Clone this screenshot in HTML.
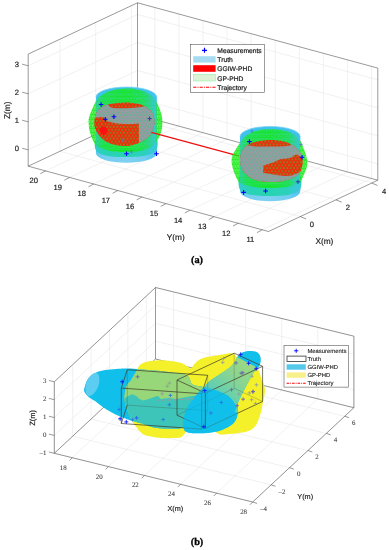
<!DOCTYPE html>
<html><head><meta charset="utf-8"><title>Figure</title>
<style>html,body{margin:0;padding:0;background:#fff;overflow:hidden;}svg{display:block;}</style>
</head><body>
<svg width="389" height="550" viewBox="0 0 389 550" text-rendering="geometricPrecision">
<rect width="389" height="550" fill="#ffffff"/>
<defs>
<pattern id="rm" width="3.4" height="5.9" patternUnits="userSpaceOnUse"><rect width="3.4" height="5.9" fill="#ff1e08"/><path d="M0,0L3.4,5.9M3.4,0L0,5.9M0,0H3.4M0,2.95H3.4" stroke="#46bc2c" stroke-width="0.3" stroke-opacity="0.6" fill="none"/><g fill="#3cc030"><circle cx="0" cy="0" r="0.65"/><circle cx="3.4" cy="0" r="0.65"/><circle cx="1.7" cy="2.95" r="0.65"/><circle cx="0" cy="5.9" r="0.65"/><circle cx="3.4" cy="5.9" r="0.65"/></g></pattern>
<pattern id="gm" width="3.4" height="5.9" patternUnits="userSpaceOnUse"><rect width="3.4" height="5.9" fill="#aa92a4"/><path d="M0,0L3.4,5.9M3.4,0L0,5.9M0,0H3.4M0,2.95H3.4" stroke="#48bc9c" stroke-width="0.4" fill="none"/><g fill="#38c860"><circle cx="0" cy="0" r="0.5"/><circle cx="3.4" cy="0" r="0.5"/><circle cx="1.7" cy="2.95" r="0.5"/><circle cx="0" cy="5.9" r="0.5"/><circle cx="3.4" cy="5.9" r="0.5"/></g></pattern>
<pattern id="grn" width="2.6" height="4.5" patternUnits="userSpaceOnUse"><rect width="2.6" height="4.5" fill="#30f030" fill-opacity="0.6"/><path d="M0,0L2.6,4.5M2.6,0L0,4.5M0,0H2.6M0,2.25H2.6" stroke="#06e806" stroke-width="0.6" fill="none"/></pattern>
<linearGradient id="cylg" x1="0" x2="1" y1="0" y2="0"><stop offset="0" stop-color="#3ec2ee" stop-opacity="0.5"/><stop offset="0.12" stop-color="#3ec2ee" stop-opacity="0.15"/><stop offset="0.5" stop-color="#3ec2ee" stop-opacity="0.0"/><stop offset="0.8" stop-color="#3ec2ee" stop-opacity="0.2"/><stop offset="1" stop-color="#3ec2ee" stop-opacity="0.85"/></linearGradient>
</defs>
<line x1="59.99" y1="151.28" x2="300.29" y2="216.58" stroke="#e3e3e3" stroke-width="0.5" />
<line x1="95.71" y1="134.51" x2="336.01" y2="199.81" stroke="#e3e3e3" stroke-width="0.5" />
<line x1="131.43" y1="117.75" x2="371.73" y2="183.05" stroke="#e3e3e3" stroke-width="0.5" />
<line x1="262.24" y1="229.8" x2="371.54" y2="178.5" stroke="#e3e3e3" stroke-width="0.5" />
<line x1="238.16" y1="223.26" x2="347.46" y2="171.96" stroke="#e3e3e3" stroke-width="0.5" />
<line x1="214.08" y1="216.71" x2="323.38" y2="165.41" stroke="#e3e3e3" stroke-width="0.5" />
<line x1="190.01" y1="210.17" x2="299.31" y2="158.87" stroke="#e3e3e3" stroke-width="0.5" />
<line x1="165.93" y1="203.63" x2="275.23" y2="152.33" stroke="#e3e3e3" stroke-width="0.5" />
<line x1="141.85" y1="197.08" x2="251.15" y2="145.78" stroke="#e3e3e3" stroke-width="0.5" />
<line x1="117.77" y1="190.54" x2="227.07" y2="139.24" stroke="#e3e3e3" stroke-width="0.5" />
<line x1="93.69" y1="184" x2="202.99" y2="132.7" stroke="#e3e3e3" stroke-width="0.5" />
<line x1="69.61" y1="177.45" x2="178.91" y2="126.15" stroke="#e3e3e3" stroke-width="0.5" />
<line x1="45.54" y1="170.91" x2="154.84" y2="119.61" stroke="#e3e3e3" stroke-width="0.5" />
<line x1="59.99" y1="151.28" x2="59.99" y2="39.18" stroke="#e3e3e3" stroke-width="0.5" />
<line x1="95.71" y1="134.51" x2="95.71" y2="22.41" stroke="#e3e3e3" stroke-width="0.5" />
<line x1="131.43" y1="117.75" x2="131.43" y2="5.65" stroke="#e3e3e3" stroke-width="0.5" />
<line x1="28.2" y1="149.86" x2="137.5" y2="98.56" stroke="#e3e3e3" stroke-width="0.5" />
<line x1="28.2" y1="121.84" x2="137.5" y2="70.54" stroke="#e3e3e3" stroke-width="0.5" />
<line x1="28.2" y1="93.81" x2="137.5" y2="42.51" stroke="#e3e3e3" stroke-width="0.5" />
<line x1="28.2" y1="65.79" x2="137.5" y2="14.49" stroke="#e3e3e3" stroke-width="0.5" />
<line x1="371.54" y1="178.5" x2="371.54" y2="66.4" stroke="#e3e3e3" stroke-width="0.5" />
<line x1="347.46" y1="171.96" x2="347.46" y2="59.86" stroke="#e3e3e3" stroke-width="0.5" />
<line x1="323.38" y1="165.41" x2="323.38" y2="53.31" stroke="#e3e3e3" stroke-width="0.5" />
<line x1="299.31" y1="158.87" x2="299.31" y2="46.77" stroke="#e3e3e3" stroke-width="0.5" />
<line x1="275.23" y1="152.33" x2="275.23" y2="40.23" stroke="#e3e3e3" stroke-width="0.5" />
<line x1="251.15" y1="145.78" x2="251.15" y2="33.68" stroke="#e3e3e3" stroke-width="0.5" />
<line x1="227.07" y1="139.24" x2="227.07" y2="27.14" stroke="#e3e3e3" stroke-width="0.5" />
<line x1="202.99" y1="132.7" x2="202.99" y2="20.6" stroke="#e3e3e3" stroke-width="0.5" />
<line x1="178.91" y1="126.15" x2="178.91" y2="14.05" stroke="#e3e3e3" stroke-width="0.5" />
<line x1="154.84" y1="119.61" x2="154.84" y2="7.51" stroke="#e3e3e3" stroke-width="0.5" />
<line x1="137.5" y1="98.56" x2="377.8" y2="163.86" stroke="#e3e3e3" stroke-width="0.5" />
<line x1="137.5" y1="70.54" x2="377.8" y2="135.84" stroke="#e3e3e3" stroke-width="0.5" />
<line x1="137.5" y1="42.51" x2="377.8" y2="107.81" stroke="#e3e3e3" stroke-width="0.5" />
<line x1="137.5" y1="14.49" x2="377.8" y2="79.79" stroke="#e3e3e3" stroke-width="0.5" />
<line x1="28.2" y1="166.2" x2="137.5" y2="114.9" stroke="#555555" stroke-width="0.6" />
<line x1="137.5" y1="114.9" x2="377.8" y2="180.2" stroke="#555555" stroke-width="0.6" />
<line x1="28.2" y1="166.2" x2="268.5" y2="231.5" stroke="#555555" stroke-width="0.6" />
<line x1="268.5" y1="231.5" x2="377.8" y2="180.2" stroke="#555555" stroke-width="0.6" />
<line x1="28.2" y1="166.2" x2="28.2" y2="54.1" stroke="#555555" stroke-width="0.6" />
<line x1="137.5" y1="114.9" x2="137.5" y2="2.8" stroke="#555555" stroke-width="0.6" />
<line x1="377.8" y1="180.2" x2="377.8" y2="68.1" stroke="#555555" stroke-width="0.6" />
<line x1="28.2" y1="54.1" x2="137.5" y2="2.8" stroke="#555555" stroke-width="0.6" />
<line x1="137.5" y1="2.8" x2="377.8" y2="68.1" stroke="#555555" stroke-width="0.6" />
<line x1="28.2" y1="149.86" x2="22.2" y2="148.26" stroke="#555555" stroke-width="0.6" />
<text x="16.9" y="151.06" font-size="7.6" font-family="'Liberation Sans', Arial, sans-serif" text-anchor="middle" fill="#1e1e1e" stroke="#1e1e1e" stroke-width="0.18" >0</text>
<line x1="28.2" y1="121.84" x2="22.2" y2="120.24" stroke="#555555" stroke-width="0.6" />
<text x="16.9" y="123.04" font-size="7.6" font-family="'Liberation Sans', Arial, sans-serif" text-anchor="middle" fill="#1e1e1e" stroke="#1e1e1e" stroke-width="0.18" >1</text>
<line x1="28.2" y1="93.81" x2="22.2" y2="92.21" stroke="#555555" stroke-width="0.6" />
<text x="16.9" y="95.01" font-size="7.6" font-family="'Liberation Sans', Arial, sans-serif" text-anchor="middle" fill="#1e1e1e" stroke="#1e1e1e" stroke-width="0.18" >2</text>
<line x1="28.2" y1="65.79" x2="22.2" y2="64.19" stroke="#555555" stroke-width="0.6" />
<text x="16.9" y="66.99" font-size="7.6" font-family="'Liberation Sans', Arial, sans-serif" text-anchor="middle" fill="#1e1e1e" stroke="#1e1e1e" stroke-width="0.18" >3</text>
<line x1="262.24" y1="229.8" x2="257.04" y2="232.6" stroke="#555555" stroke-width="0.6" />
<text x="250.34" y="242.2" font-size="7.6" font-family="'Liberation Sans', Arial, sans-serif" text-anchor="middle" fill="#1e1e1e" stroke="#1e1e1e" stroke-width="0.18" >11</text>
<line x1="238.16" y1="223.26" x2="232.96" y2="226.06" stroke="#555555" stroke-width="0.6" />
<text x="226.26" y="235.66" font-size="7.6" font-family="'Liberation Sans', Arial, sans-serif" text-anchor="middle" fill="#1e1e1e" stroke="#1e1e1e" stroke-width="0.18" >12</text>
<line x1="214.08" y1="216.71" x2="208.88" y2="219.51" stroke="#555555" stroke-width="0.6" />
<text x="202.18" y="229.11" font-size="7.6" font-family="'Liberation Sans', Arial, sans-serif" text-anchor="middle" fill="#1e1e1e" stroke="#1e1e1e" stroke-width="0.18" >13</text>
<line x1="190.01" y1="210.17" x2="184.81" y2="212.97" stroke="#555555" stroke-width="0.6" />
<text x="178.11" y="222.57" font-size="7.6" font-family="'Liberation Sans', Arial, sans-serif" text-anchor="middle" fill="#1e1e1e" stroke="#1e1e1e" stroke-width="0.18" >14</text>
<line x1="165.93" y1="203.63" x2="160.73" y2="206.43" stroke="#555555" stroke-width="0.6" />
<text x="154.03" y="216.03" font-size="7.6" font-family="'Liberation Sans', Arial, sans-serif" text-anchor="middle" fill="#1e1e1e" stroke="#1e1e1e" stroke-width="0.18" >15</text>
<line x1="141.85" y1="197.08" x2="136.65" y2="199.88" stroke="#555555" stroke-width="0.6" />
<text x="129.95" y="209.48" font-size="7.6" font-family="'Liberation Sans', Arial, sans-serif" text-anchor="middle" fill="#1e1e1e" stroke="#1e1e1e" stroke-width="0.18" >16</text>
<line x1="117.77" y1="190.54" x2="112.57" y2="193.34" stroke="#555555" stroke-width="0.6" />
<text x="105.87" y="202.94" font-size="7.6" font-family="'Liberation Sans', Arial, sans-serif" text-anchor="middle" fill="#1e1e1e" stroke="#1e1e1e" stroke-width="0.18" >17</text>
<line x1="93.69" y1="184" x2="88.49" y2="186.8" stroke="#555555" stroke-width="0.6" />
<text x="81.79" y="196.4" font-size="7.6" font-family="'Liberation Sans', Arial, sans-serif" text-anchor="middle" fill="#1e1e1e" stroke="#1e1e1e" stroke-width="0.18" >18</text>
<line x1="69.61" y1="177.45" x2="64.41" y2="180.25" stroke="#555555" stroke-width="0.6" />
<text x="57.71" y="189.85" font-size="7.6" font-family="'Liberation Sans', Arial, sans-serif" text-anchor="middle" fill="#1e1e1e" stroke="#1e1e1e" stroke-width="0.18" >19</text>
<line x1="45.54" y1="170.91" x2="40.34" y2="173.71" stroke="#555555" stroke-width="0.6" />
<text x="33.64" y="183.31" font-size="7.6" font-family="'Liberation Sans', Arial, sans-serif" text-anchor="middle" fill="#1e1e1e" stroke="#1e1e1e" stroke-width="0.18" >20</text>
<line x1="300.29" y1="216.58" x2="306.09" y2="218.98" stroke="#555555" stroke-width="0.6" />
<text x="311.79" y="227.08" font-size="7.6" font-family="'Liberation Sans', Arial, sans-serif" text-anchor="middle" fill="#1e1e1e" stroke="#1e1e1e" stroke-width="0.18" >0</text>
<line x1="336.01" y1="199.81" x2="341.81" y2="202.21" stroke="#555555" stroke-width="0.6" />
<text x="347.91" y="210.31" font-size="7.6" font-family="'Liberation Sans', Arial, sans-serif" text-anchor="middle" fill="#1e1e1e" stroke="#1e1e1e" stroke-width="0.18" >2</text>
<line x1="371.73" y1="183.05" x2="377.53" y2="185.45" stroke="#555555" stroke-width="0.6" />
<text x="384.03" y="193.55" font-size="7.6" font-family="'Liberation Sans', Arial, sans-serif" text-anchor="middle" fill="#1e1e1e" stroke="#1e1e1e" stroke-width="0.18" >4</text>
<text x="7.7" y="110.8" font-size="8.3" font-family="'Liberation Sans', Arial, sans-serif" text-anchor="middle" fill="#1e1e1e" stroke="#1e1e1e" stroke-width="0.18" transform="rotate(-90 7.5 110.5)" dominant-baseline="middle">Z(m)</text>
<text x="175.8" y="240.2" font-size="8.3" font-family="'Liberation Sans', Arial, sans-serif" text-anchor="middle" fill="#1e1e1e" stroke="#1e1e1e" stroke-width="0.18" >Y(m)</text>
<text x="324.4" y="243.6" font-size="8.3" font-family="'Liberation Sans', Arial, sans-serif" text-anchor="middle" fill="#1e1e1e" stroke="#1e1e1e" stroke-width="0.18" >X(m)</text>
<path d="M96,97 A30.3,10 0 0 1 156.6,97 L156.6,153 A30.3,9.8 0 0 1 96,153 Z" fill="#7ed0f1"/>
<path d="M96,97 A30.3,10 0 0 1 156.6,97 L156.6,153 A30.3,9.8 0 0 0 96,153 Z" fill="#3ec2ee"/>
<path d="M96.3,140 C98.58,139.17 105.05,144.67 110,146 C114.95,147.33 120,148 126,148 C132,148 140.93,147.5 146,146 C151.07,144.5 154.67,138.33 156.4,139 C158.13,139.67 158.13,147.25 156.4,150 C154.67,152.75 151.07,154.33 146,155.5 C140.93,156.67 132.33,156.92 126,157 C119.67,157.08 112.95,157 108,156 C103.05,155 98.25,153.67 96.3,151 C94.35,148.33 94.02,140.83 96.3,140Z" fill="#27d4b0"/>
<path d="M96.6,100 C98.02,97.83 99.1,96.87 101,95.5 C102.9,94.13 105.33,92.85 108,91.8 C110.67,90.75 114,89.77 117,89.2 C120,88.63 123,88.45 126,88.4 C129,88.35 131.83,88.33 135,88.9 C138.17,89.47 142.17,90.57 145,91.8 C147.83,93.03 150.17,94.77 152,96.3 C153.83,97.83 154.78,99.05 156,101 C157.22,102.95 158.37,105.67 159.3,108 C160.23,110.33 161.08,112.67 161.6,115 C162.12,117.33 162.4,119.5 162.4,122 C162.4,124.5 162.17,127.42 161.6,130 C161.03,132.58 160.02,135.33 159,137.5 C157.98,139.67 157.17,141.17 155.5,143 C153.83,144.83 151.58,147.17 149,148.5 C146.42,149.83 143.08,150.42 140,151 C136.92,151.58 133.83,151.83 130.5,152 C127.17,152.17 123.42,152.17 120,152 C116.58,151.83 113,151.58 110,151 C107,150.42 104.23,149.3 102,148.5 C99.77,147.7 98.22,147.78 96.6,146.2 C94.98,144.62 93.47,141.53 92.3,139 C91.13,136.47 90.22,133.83 89.6,131 C88.98,128.17 88.65,124.42 88.6,122 C88.55,119.58 88.65,118.75 89.3,116.5 C89.95,114.25 91.28,111.25 92.5,108.5 C93.72,105.75 95.18,102.17 96.6,100Z" fill="url(#grn)"/>
<clipPath id="cl1"><path d="M96,97 A30.3,10 0 0 1 156.6,97 L156.6,153 A30.3,9.8 0 0 1 96,153 Z"/></clipPath>
<rect x="96" y="0" width="60.6" height="260" fill="url(#cylg)" clip-path="url(#cl1)"/>
<clipPath id="rc1"><path d="M94.3,122.5 C94.43,120 94.88,116 96,113.5 C97.12,111 98.67,109.08 101,107.5 C103.33,105.92 106,104.85 110,104 C114,103.15 120.17,102.4 125,102.4 C129.83,102.4 135.25,103.1 139,104 C142.75,104.9 145.23,106.22 147.5,107.8 C149.77,109.38 151.43,111.3 152.6,113.5 C153.77,115.7 154.4,118.42 154.5,121 C154.6,123.58 154.08,126.5 153.2,129 C152.32,131.5 151.07,133.92 149.2,136 C147.33,138.08 144.87,139.97 142,141.5 C139.13,143.03 135.17,144.45 132,145.2 C128.83,145.95 126.17,146.1 123,146 C119.83,145.9 116.08,145.52 113,144.6 C109.92,143.68 106.93,142.18 104.5,140.5 C102.07,138.82 99.95,136.5 98.4,134.5 C96.85,132.5 95.88,130.5 95.2,128.5 C94.52,126.5 94.17,125 94.3,122.5Z"/></clipPath>
<path d="M94.3,122.5 C94.43,120 94.88,116 96,113.5 C97.12,111 98.67,109.08 101,107.5 C103.33,105.92 106,104.85 110,104 C114,103.15 120.17,102.4 125,102.4 C129.83,102.4 135.25,103.1 139,104 C142.75,104.9 145.23,106.22 147.5,107.8 C149.77,109.38 151.43,111.3 152.6,113.5 C153.77,115.7 154.4,118.42 154.5,121 C154.6,123.58 154.08,126.5 153.2,129 C152.32,131.5 151.07,133.92 149.2,136 C147.33,138.08 144.87,139.97 142,141.5 C139.13,143.03 135.17,144.45 132,145.2 C128.83,145.95 126.17,146.1 123,146 C119.83,145.9 116.08,145.52 113,144.6 C109.92,143.68 106.93,142.18 104.5,140.5 C102.07,138.82 99.95,136.5 98.4,134.5 C96.85,132.5 95.88,130.5 95.2,128.5 C94.52,126.5 94.17,125 94.3,122.5Z" fill="url(#rm)"/>
<path d="M88,99 L104,101 L107.5,104 L110,107 L113,108 L117,108.3 L126,108.3 L135,107.8 L141,107 L144,106.5 L148,104 L165,104 L165,152 L139,152 L138.8,123.4 L132,123.9 L126,124.1 L120,123.8 L115.2,123.2 L110,122 L108,121.4 L105,118.5 L102.6,116.9 L99,117.2 L95.4,117.8 L88,118Z" fill="url(#gm)" clip-path="url(#rc1)"/>
<path d="M96,97 A30.3,10 0 0 1 156.6,97" fill="none" stroke="#8ad6f4" stroke-width="0.8"/>
<path d="M100.5,127.5 C101.2,126.75 102.92,126.33 104,126.5 C105.08,126.67 106.42,127.58 107,128.5 C107.58,129.42 107.83,131 107.5,132 C107.17,133 106,134.17 105,134.5 C104,134.83 102.37,134.58 101.5,134 C100.63,133.42 99.97,132.08 99.8,131 C99.63,129.92 99.8,128.25 100.5,127.5Z" fill="#ff1010"/>
<line x1="151.3" y1="132.3" x2="239.3" y2="156.1" stroke="#f01010" stroke-width="1.25" />
<path d="M240,136.6 A30.1,10.2 0 0 1 300.2,136.6 L300.2,191 A30.1,10.3 0 0 1 240,191 Z" fill="#7ed0f1"/>
<path d="M240,136.6 A30.1,10.2 0 0 1 300.2,136.6 L300.2,191 A30.1,10.3 0 0 0 240,191 Z" fill="#3ec2ee"/>
<path d="M240.1,176 C242.42,174.67 249.02,180.67 254,182 C258.98,183.33 264,184 270,184 C276,184 284.97,183.33 290,182 C295.03,180.67 298.5,174.83 300.2,176 C301.9,177.17 301.9,185.92 300.2,189 C298.5,192.08 295.03,193.33 290,194.5 C284.97,195.67 276.33,195.92 270,196 C263.67,196.08 256.98,196 252,195 C247.02,194 242.08,193.17 240.1,190 C238.12,186.83 237.78,177.33 240.1,176Z" fill="#27d4b0"/>
<path d="M240.2,142.5 C241.7,140.42 243.03,138.22 245,136.5 C246.97,134.78 249.33,133.32 252,132.2 C254.67,131.08 258,130.3 261,129.8 C264,129.3 266.83,129.2 270,129.2 C273.17,129.2 276.83,129.33 280,129.8 C283.17,130.27 286.42,131.05 289,132 C291.58,132.95 293.62,134 295.5,135.5 C297.38,137 298.97,138.92 300.3,141 C301.63,143.08 302.58,145.75 303.5,148 C304.42,150.25 305.17,152.25 305.8,154.5 C306.43,156.75 307.17,159.25 307.3,161.5 C307.43,163.75 307.05,166.08 306.6,168 C306.15,169.92 305.63,170.73 304.6,173 C303.57,175.27 302.33,179.52 300.4,181.6 C298.47,183.68 295.9,184.52 293,185.5 C290.1,186.48 286.83,187.08 283,187.5 C279.17,187.92 274.17,188 270,188 C265.83,188 261.83,187.92 258,187.5 C254.17,187.08 249.93,186.22 247,185.5 C244.07,184.78 242.02,184.17 240.4,183.2 C238.78,182.23 238.4,181.63 237.3,179.7 C236.2,177.77 234.73,174.38 233.8,171.6 C232.87,168.82 231.97,165.6 231.7,163 C231.43,160.4 231.48,158.33 232.2,156 C232.92,153.67 234.67,151.25 236,149 C237.33,146.75 238.7,144.58 240.2,142.5Z" fill="url(#grn)"/>
<clipPath id="cl2"><path d="M240,136.6 A30.1,10.2 0 0 1 300.2,136.6 L300.2,191 A30.1,10.3 0 0 1 240,191 Z"/></clipPath>
<rect x="240" y="0" width="60.2" height="260" fill="url(#cylg)" clip-path="url(#cl2)"/>
<clipPath id="rc2"><path d="M240,161 C239.83,157.97 240.6,154.48 241.6,152 C242.6,149.52 243.77,147.77 246,146.1 C248.23,144.43 251.17,143.03 255,142 C258.83,140.97 264.33,140.02 269,139.9 C273.67,139.78 279,140.37 283,141.3 C287,142.23 290.25,143.8 293,145.5 C295.75,147.2 297.9,149.08 299.5,151.5 C301.1,153.92 302.22,157.25 302.6,160 C302.98,162.75 302.47,165.63 301.8,168 C301.13,170.37 300.4,172.4 298.6,174.2 C296.8,176 294.02,177.6 291,178.8 C287.98,180 284.17,180.87 280.5,181.4 C276.83,181.93 272.92,182.13 269,182 C265.08,181.87 260.42,181.53 257,180.6 C253.58,179.67 250.9,178.13 248.5,176.4 C246.1,174.67 244.02,172.77 242.6,170.2 C241.18,167.63 240.17,164.03 240,161Z"/></clipPath>
<path d="M240,161 C239.83,157.97 240.6,154.48 241.6,152 C242.6,149.52 243.77,147.77 246,146.1 C248.23,144.43 251.17,143.03 255,142 C258.83,140.97 264.33,140.02 269,139.9 C273.67,139.78 279,140.37 283,141.3 C287,142.23 290.25,143.8 293,145.5 C295.75,147.2 297.9,149.08 299.5,151.5 C301.1,153.92 302.22,157.25 302.6,160 C302.98,162.75 302.47,165.63 301.8,168 C301.13,170.37 300.4,172.4 298.6,174.2 C296.8,176 294.02,177.6 291,178.8 C287.98,180 284.17,180.87 280.5,181.4 C276.83,181.93 272.92,182.13 269,182 C265.08,181.87 260.42,181.53 257,180.6 C253.58,179.67 250.9,178.13 248.5,176.4 C246.1,174.67 244.02,172.77 242.6,170.2 C241.18,167.63 240.17,164.03 240,161Z" fill="url(#rm)"/>
<path d="M235,143 L244,144 L248.5,145.6 L255,146.4 L262,146.6 L270,146.5 L278,146.4 L285,146.2 L290,145.5 L296,143 L310,143 L310,157 L300,156.6 L297.4,154.6 L293.6,155.3 L292.3,157.2 L287.1,158.5 L280.7,159.1 L273,162.4 L263.4,165.6 L263.2,172.8 L270,174 L276,175 L285,176 L292,175.5 L298,173 L301.5,170.5 L310,170 L310,190 L235,190Z" fill="url(#gm)" clip-path="url(#rc2)"/>
<path d="M240,136.6 A30.1,10.2 0 0 1 300.2,136.6" fill="none" stroke="#8ad6f4" stroke-width="0.8"/>
<path d="M98.8,104.5h4.6M101.1,102.2v4.6" stroke="#0000ff" stroke-width="1.1"/>
<path d="M103,119.3h4.6M105.3,117v4.6" stroke="#0000ff" stroke-width="1.1"/>
<path d="M111.6,116.8h4.6M113.9,114.5v4.6" stroke="#0000ff" stroke-width="1.1"/>
<path d="M124.2,153.7h4.6M126.5,151.4v4.6" stroke="#0000ff" stroke-width="1.1"/>
<path d="M154.2,153.7h4.6M156.5,151.4v4.6" stroke="#0000ff" stroke-width="1.1"/>
<path d="M247.1,141.6h4.6M249.4,139.3v4.6" stroke="#0000ff" stroke-width="1.1"/>
<path d="M299.8,157.3h4.6M302.1,155v4.6" stroke="#0000ff" stroke-width="1.1"/>
<path d="M241.3,192.4h4.6M243.6,190.1v4.6" stroke="#0000ff" stroke-width="1.1"/>
<path d="M263.3,191h4.6M265.6,188.7v4.6" stroke="#0000ff" stroke-width="1.1"/>
<path d="M147.5,118.6h4.2M149.6,116.5v4.2" stroke="#2a3ca8" stroke-width="1.0"/>
<path d="M295.9,181.8h4.2M298,179.7v4.2" stroke="#2a3ca8" stroke-width="1.0"/>
<path d="M129.6,152h3.6M131.4,150.2v3.6" stroke="#5577cc" stroke-width="0.7"/>
<path d="M121.1,140.4h3.6M122.9,138.6v3.6" stroke="#5577cc" stroke-width="0.7"/>
<path d="M250.1,131h3.6M251.9,129.2v3.6" stroke="#5577cc" stroke-width="0.7"/>
<path d="M299.2,144.5h3.6M301,142.7v3.6" stroke="#5577cc" stroke-width="0.7"/>
<rect x="190.5" y="44.6" width="74" height="48" fill="#ffffff" stroke="#3a3a3a" stroke-width="0.5"/>
<path d="M202,50.3h5M204.5,47.8v5" stroke="#0000ff" stroke-width="1.2"/>
<rect x="193.2" y="56.2" width="22.4" height="6.4" fill="#a6dcf2"/>
<rect x="193.2" y="65.2" width="22.4" height="6.6" fill="#ff0000"/>
<rect x="193.5" y="74.4" width="21.8" height="6.6" fill="#def2d6" stroke="#8ef0a8" stroke-width="0.6"/>
<line x1="193.2" y1="87.2" x2="215.6" y2="87.2" stroke="#ff0000" stroke-width="1.15" stroke-dasharray="3.2,1.1,1,1.1"/>
<text x="217.3" y="53.2" font-size="6.72" font-family="'Liberation Sans', Arial, sans-serif" text-anchor="start" fill="#141414" stroke="#141414" stroke-width="0.18" >Measurements</text>
<text x="217.3" y="62.3" font-size="6.72" font-family="'Liberation Sans', Arial, sans-serif" text-anchor="start" fill="#141414" stroke="#141414" stroke-width="0.18" >Truth</text>
<text x="217.3" y="71.4" font-size="6.72" font-family="'Liberation Sans', Arial, sans-serif" text-anchor="start" fill="#141414" stroke="#141414" stroke-width="0.18" >GGIW-PHD</text>
<text x="217.3" y="80.6" font-size="6.72" font-family="'Liberation Sans', Arial, sans-serif" text-anchor="start" fill="#141414" stroke="#141414" stroke-width="0.18" >GP-PHD</text>
<text x="217.3" y="90" font-size="6.72" font-family="'Liberation Sans', Arial, sans-serif" text-anchor="start" fill="#141414" stroke="#141414" stroke-width="0.18" >Trajectory</text>
<line x1="72.34" y1="457.73" x2="173.54" y2="363.43" stroke="#e3e3e3" stroke-width="0.5" />
<line x1="173.54" y1="363.43" x2="173.54" y2="291.93" stroke="#e3e3e3" stroke-width="0.5" />
<line x1="108.41" y1="466.58" x2="209.61" y2="372.28" stroke="#e3e3e3" stroke-width="0.5" />
<line x1="209.61" y1="372.28" x2="209.61" y2="300.78" stroke="#e3e3e3" stroke-width="0.5" />
<line x1="144.48" y1="475.44" x2="245.68" y2="381.14" stroke="#e3e3e3" stroke-width="0.5" />
<line x1="245.68" y1="381.14" x2="245.68" y2="309.64" stroke="#e3e3e3" stroke-width="0.5" />
<line x1="180.55" y1="484.29" x2="281.75" y2="389.99" stroke="#e3e3e3" stroke-width="0.5" />
<line x1="281.75" y1="389.99" x2="281.75" y2="318.49" stroke="#e3e3e3" stroke-width="0.5" />
<line x1="216.63" y1="493.15" x2="317.83" y2="398.85" stroke="#e3e3e3" stroke-width="0.5" />
<line x1="317.83" y1="398.85" x2="317.83" y2="327.35" stroke="#e3e3e3" stroke-width="0.5" />
<line x1="252.7" y1="502" x2="353.9" y2="407.7" stroke="#e3e3e3" stroke-width="0.5" />
<line x1="353.9" y1="407.7" x2="353.9" y2="336.2" stroke="#e3e3e3" stroke-width="0.5" />
<line x1="54.3" y1="453.3" x2="252.7" y2="502" stroke="#e3e3e3" stroke-width="0.5" />
<line x1="54.3" y1="453.3" x2="54.3" y2="381.8" stroke="#e3e3e3" stroke-width="0.5" />
<line x1="72.7" y1="436.15" x2="271.1" y2="484.85" stroke="#e3e3e3" stroke-width="0.5" />
<line x1="72.7" y1="436.15" x2="72.7" y2="364.65" stroke="#e3e3e3" stroke-width="0.5" />
<line x1="91.1" y1="419.01" x2="289.5" y2="467.71" stroke="#e3e3e3" stroke-width="0.5" />
<line x1="91.1" y1="419.01" x2="91.1" y2="347.51" stroke="#e3e3e3" stroke-width="0.5" />
<line x1="109.5" y1="401.86" x2="307.9" y2="450.56" stroke="#e3e3e3" stroke-width="0.5" />
<line x1="109.5" y1="401.86" x2="109.5" y2="330.36" stroke="#e3e3e3" stroke-width="0.5" />
<line x1="127.9" y1="384.72" x2="326.3" y2="433.42" stroke="#e3e3e3" stroke-width="0.5" />
<line x1="127.9" y1="384.72" x2="127.9" y2="313.22" stroke="#e3e3e3" stroke-width="0.5" />
<line x1="146.3" y1="367.57" x2="344.7" y2="416.27" stroke="#e3e3e3" stroke-width="0.5" />
<line x1="146.3" y1="367.57" x2="146.3" y2="296.07" stroke="#e3e3e3" stroke-width="0.5" />
<line x1="54.3" y1="453.3" x2="155.5" y2="359" stroke="#e3e3e3" stroke-width="0.5" />
<line x1="155.5" y1="359" x2="353.9" y2="407.7" stroke="#e3e3e3" stroke-width="0.5" />
<line x1="54.3" y1="435.43" x2="155.5" y2="341.12" stroke="#e3e3e3" stroke-width="0.5" />
<line x1="155.5" y1="341.12" x2="353.9" y2="389.82" stroke="#e3e3e3" stroke-width="0.5" />
<line x1="54.3" y1="417.55" x2="155.5" y2="323.25" stroke="#e3e3e3" stroke-width="0.5" />
<line x1="155.5" y1="323.25" x2="353.9" y2="371.95" stroke="#e3e3e3" stroke-width="0.5" />
<line x1="54.3" y1="399.68" x2="155.5" y2="305.38" stroke="#e3e3e3" stroke-width="0.5" />
<line x1="155.5" y1="305.38" x2="353.9" y2="354.07" stroke="#e3e3e3" stroke-width="0.5" />
<line x1="54.3" y1="381.8" x2="155.5" y2="287.5" stroke="#e3e3e3" stroke-width="0.5" />
<line x1="155.5" y1="287.5" x2="353.9" y2="336.2" stroke="#e3e3e3" stroke-width="0.5" />
<line x1="54.3" y1="453.3" x2="155.5" y2="359" stroke="#555555" stroke-width="0.6" />
<line x1="155.5" y1="359" x2="353.9" y2="407.7" stroke="#555555" stroke-width="0.6" />
<line x1="54.3" y1="453.3" x2="252.7" y2="502" stroke="#555555" stroke-width="0.6" />
<line x1="252.7" y1="502" x2="353.9" y2="407.7" stroke="#555555" stroke-width="0.6" />
<line x1="54.3" y1="453.3" x2="54.3" y2="381.8" stroke="#555555" stroke-width="0.6" />
<line x1="155.5" y1="359" x2="155.5" y2="287.5" stroke="#555555" stroke-width="0.6" />
<line x1="353.9" y1="407.7" x2="353.9" y2="336.2" stroke="#555555" stroke-width="0.6" />
<line x1="54.3" y1="381.8" x2="155.5" y2="287.5" stroke="#555555" stroke-width="0.6" />
<line x1="155.5" y1="287.5" x2="353.9" y2="336.2" stroke="#555555" stroke-width="0.6" />
<line x1="54.3" y1="453.3" x2="48.9" y2="452" stroke="#555555" stroke-width="0.6" />
<text x="46.4" y="454.5" font-size="6.9" font-family="'Liberation Serif', 'Times New Roman', serif" text-anchor="end" fill="#333333" stroke="#333333" stroke-width="0.05" >&#8211;1</text>
<line x1="54.3" y1="435.43" x2="48.9" y2="434.12" stroke="#555555" stroke-width="0.6" />
<text x="46.4" y="436.62" font-size="6.9" font-family="'Liberation Serif', 'Times New Roman', serif" text-anchor="end" fill="#333333" stroke="#333333" stroke-width="0.05" >0</text>
<line x1="54.3" y1="417.55" x2="48.9" y2="416.25" stroke="#555555" stroke-width="0.6" />
<text x="46.4" y="418.75" font-size="6.9" font-family="'Liberation Serif', 'Times New Roman', serif" text-anchor="end" fill="#333333" stroke="#333333" stroke-width="0.05" >1</text>
<line x1="54.3" y1="399.68" x2="48.9" y2="398.38" stroke="#555555" stroke-width="0.6" />
<text x="46.4" y="400.88" font-size="6.9" font-family="'Liberation Serif', 'Times New Roman', serif" text-anchor="end" fill="#333333" stroke="#333333" stroke-width="0.05" >2</text>
<line x1="54.3" y1="381.8" x2="48.9" y2="380.5" stroke="#555555" stroke-width="0.6" />
<text x="46.4" y="383" font-size="6.9" font-family="'Liberation Serif', 'Times New Roman', serif" text-anchor="end" fill="#333333" stroke="#333333" stroke-width="0.05" >3</text>
<line x1="72.34" y1="457.73" x2="69.54" y2="460.53" stroke="#555555" stroke-width="0.6" />
<text x="63.24" y="469.73" font-size="6.9" font-family="'Liberation Serif', 'Times New Roman', serif" text-anchor="middle" fill="#333333" stroke="#333333" stroke-width="0.05" >18</text>
<line x1="108.41" y1="466.58" x2="105.61" y2="469.38" stroke="#555555" stroke-width="0.6" />
<text x="99.31" y="478.58" font-size="6.9" font-family="'Liberation Serif', 'Times New Roman', serif" text-anchor="middle" fill="#333333" stroke="#333333" stroke-width="0.05" >20</text>
<line x1="144.48" y1="475.44" x2="141.68" y2="478.24" stroke="#555555" stroke-width="0.6" />
<text x="135.38" y="487.44" font-size="6.9" font-family="'Liberation Serif', 'Times New Roman', serif" text-anchor="middle" fill="#333333" stroke="#333333" stroke-width="0.05" >22</text>
<line x1="180.55" y1="484.29" x2="177.75" y2="487.09" stroke="#555555" stroke-width="0.6" />
<text x="171.45" y="496.29" font-size="6.9" font-family="'Liberation Serif', 'Times New Roman', serif" text-anchor="middle" fill="#333333" stroke="#333333" stroke-width="0.05" >24</text>
<line x1="216.63" y1="493.15" x2="213.83" y2="495.95" stroke="#555555" stroke-width="0.6" />
<text x="207.53" y="505.15" font-size="6.9" font-family="'Liberation Serif', 'Times New Roman', serif" text-anchor="middle" fill="#333333" stroke="#333333" stroke-width="0.05" >26</text>
<line x1="252.7" y1="502" x2="249.9" y2="504.8" stroke="#555555" stroke-width="0.6" />
<text x="243.6" y="514" font-size="6.9" font-family="'Liberation Serif', 'Times New Roman', serif" text-anchor="middle" fill="#333333" stroke="#333333" stroke-width="0.05" >28</text>
<line x1="252.7" y1="502" x2="257.1" y2="503.4" stroke="#555555" stroke-width="0.6" />
<text x="260.1" y="510.7" font-size="6.9" font-family="'Liberation Serif', 'Times New Roman', serif" text-anchor="start" fill="#333333" stroke="#333333" stroke-width="0.05" >&#8211;4</text>
<line x1="271.1" y1="484.85" x2="275.5" y2="486.25" stroke="#555555" stroke-width="0.6" />
<text x="278.5" y="493.55" font-size="6.9" font-family="'Liberation Serif', 'Times New Roman', serif" text-anchor="start" fill="#333333" stroke="#333333" stroke-width="0.05" >&#8211;2</text>
<line x1="289.5" y1="467.71" x2="293.9" y2="469.11" stroke="#555555" stroke-width="0.6" />
<text x="296.9" y="476.41" font-size="6.9" font-family="'Liberation Serif', 'Times New Roman', serif" text-anchor="start" fill="#333333" stroke="#333333" stroke-width="0.05" >0</text>
<line x1="307.9" y1="450.56" x2="312.3" y2="451.96" stroke="#555555" stroke-width="0.6" />
<text x="315.3" y="459.26" font-size="6.9" font-family="'Liberation Serif', 'Times New Roman', serif" text-anchor="start" fill="#333333" stroke="#333333" stroke-width="0.05" >2</text>
<line x1="326.3" y1="433.42" x2="330.7" y2="434.82" stroke="#555555" stroke-width="0.6" />
<text x="333.7" y="442.12" font-size="6.9" font-family="'Liberation Serif', 'Times New Roman', serif" text-anchor="start" fill="#333333" stroke="#333333" stroke-width="0.05" >4</text>
<line x1="344.7" y1="416.27" x2="349.1" y2="417.67" stroke="#555555" stroke-width="0.6" />
<text x="352.1" y="424.97" font-size="6.9" font-family="'Liberation Serif', 'Times New Roman', serif" text-anchor="start" fill="#333333" stroke="#333333" stroke-width="0.05" >6</text>
<text x="33.5" y="417.8" font-size="7.5" font-family="'Liberation Sans', Arial, sans-serif" text-anchor="middle" fill="#1e1e1e" stroke="#1e1e1e" stroke-width="0.18" transform="rotate(-90 33.5 417.8)" dominant-baseline="middle">Z(m)</text>
<text x="175.3" y="511" font-size="7.3" font-family="'Liberation Sans', Arial, sans-serif" text-anchor="middle" fill="#1e1e1e" stroke="#1e1e1e" stroke-width="0.18" >X(m)</text>
<text x="305.2" y="499.3" font-size="7.3" font-family="'Liberation Sans', Arial, sans-serif" text-anchor="middle" fill="#1e1e1e" stroke="#1e1e1e" stroke-width="0.18" >Y(m)</text>
<clipPath id="cc1"><path d="M84.3,391.5 C83.63,389.63 84.43,388.03 85,386 C85.57,383.97 86.48,381.18 87.7,379.3 C88.92,377.42 90.5,375.98 92.3,374.7 C94.1,373.42 95.92,372.42 98.5,371.6 C101.08,370.78 104.45,370.27 107.8,369.8 C111.15,369.33 115.27,369.02 118.6,368.8 C121.93,368.58 124.23,368.43 127.8,368.5 C131.37,368.57 135.47,368.85 140,369.2 C144.53,369.55 150.33,370.13 155,370.6 C159.67,371.07 164.17,371.55 168,372 C171.83,372.45 175.17,372.87 178,373.3 C180.83,373.73 183.12,373.82 185,374.6 C186.88,375.38 188.22,376.52 189.3,378 C190.38,379.48 190.3,382.2 191.5,383.5 C192.7,384.8 194.58,385.22 196.5,385.8 C198.42,386.38 201.58,386.05 203,387 C204.42,387.95 204.92,389.75 205,391.5 C205.08,393.25 204.33,395.42 203.5,397.5 C202.67,399.58 201.42,401.58 200,404 C198.58,406.42 196.83,409.33 195,412 C193.17,414.67 191,417.42 189,420 C187,422.58 185.93,426.03 183,427.5 C180.07,428.97 175.23,428.68 171.4,428.8 C167.57,428.92 163.42,428.55 160,428.2 C156.58,427.85 153.9,427.47 150.9,426.7 C147.9,425.93 144.82,424.52 142,423.6 C139.18,422.68 136.62,421.98 134,421.2 C131.38,420.42 128.62,419.67 126.3,418.9 C123.98,418.13 122.67,417.75 120.1,416.6 C117.53,415.45 113.73,413.55 110.9,412 C108.07,410.45 105.68,409.1 103.1,407.3 C100.52,405.5 97.75,402.88 95.4,401.2 C93.05,399.52 90.85,398.82 89,397.2 C87.15,395.58 84.97,393.37 84.3,391.5Z"/></clipPath>
<clipPath id="cc2"><path d="M204.6,387 C205.93,385.58 206.33,383.7 209,381.5 C211.67,379.3 216.97,376.32 220.6,373.8 C224.23,371.28 228.43,368.4 230.8,366.4 C233.17,364.4 233.77,363.33 234.8,361.8 C235.83,360.27 236.05,358.57 237,357.2 C237.95,355.83 239.08,354.53 240.5,353.6 C241.92,352.67 243.75,352.02 245.5,351.6 C247.25,351.18 249.17,351.03 251,351.1 C252.83,351.17 255.03,351.32 256.5,352 C257.97,352.68 259.08,353.9 259.8,355.2 C260.52,356.5 260.83,358.08 260.8,359.8 C260.77,361.52 260.33,363.8 259.6,365.5 C258.87,367.2 257.4,368.8 256.4,370 C255.4,371.2 255.15,370.32 253.6,372.7 C252.05,375.08 249.25,380.23 247.1,384.3 C244.95,388.37 242.25,393.82 240.7,397.1 C239.15,400.38 238.32,401.22 237.8,404 C237.28,406.78 237.9,411.22 237.6,413.8 C237.3,416.38 236.93,417.7 236,419.5 C235.07,421.3 234.33,422.85 232,424.6 C229.67,426.35 225.2,428.73 222,430 C218.8,431.27 215.83,431.67 212.8,432.2 C209.77,432.73 207.1,433.03 203.8,433.2 C200.5,433.37 195.97,433.43 193,433.2 C190.03,432.97 187.57,432.67 186,431.8 C184.43,430.93 184.07,429.63 183.6,428 C183.13,426.37 183.03,424.17 183.2,422 C183.37,419.83 183.82,417.6 184.6,415 C185.38,412.4 186.53,408.93 187.9,406.4 C189.27,403.87 191.17,402 192.8,399.8 C194.43,397.6 196.33,394.83 197.7,393.2 C199.07,391.57 199.85,391.03 201,390 C202.15,388.97 203.27,388.42 204.6,387Z"/></clipPath>
<clipPath id="cy"><path d="M141,364 C138.63,365.55 138.43,367.53 136.7,370.3 C134.97,373.07 132.32,377.98 130.6,380.6 C128.88,383.22 127.45,383.03 126.4,386 C125.35,388.97 124.13,394.28 124.3,398.4 C124.47,402.52 126.2,407.1 127.4,410.7 C128.6,414.3 130.23,417.53 131.5,420 C132.77,422.47 133.12,423.17 135,425.5 C136.88,427.83 140.15,432.18 142.8,434 C145.45,435.82 147.83,435.73 150.9,436.4 C153.97,437.07 157.43,437.73 161.2,438 C164.97,438.27 170.2,438.13 173.5,438 C176.8,437.87 179.17,437.87 181,437.2 C182.83,436.53 183.33,435.07 184.5,434 C185.67,432.93 185.42,431.47 188,430.8 C190.58,430.13 196,430.05 200,430 C204,429.95 209.3,430.07 212,430.5 C214.7,430.93 214.73,431.92 216.2,432.6 C217.67,433.28 218.75,434.37 220.8,434.6 C222.85,434.83 225.67,434.23 228.5,434 C231.33,433.77 234.72,433.6 237.8,433.2 C240.88,432.8 244.68,432.25 247,431.6 C249.32,430.95 250.15,430.45 251.7,429.3 C253.25,428.15 255.02,426.75 256.3,424.7 C257.58,422.65 258.5,419.57 259.4,417 C260.3,414.43 261.05,412.13 261.7,409.3 C262.35,406.47 262.78,402.72 263.3,400 C263.82,397.28 264.62,395.28 264.8,393 C264.98,390.72 264.98,388.7 264.4,386.3 C263.82,383.9 262.43,381.55 261.3,378.6 C260.17,375.65 259.98,371.32 257.6,368.6 C255.22,365.88 249.93,364 247,362.3 C244.07,360.6 241.83,359.38 240,358.4 C238.17,357.42 237.08,357.2 236,356.4 C234.92,355.6 234.83,354.07 233.5,353.6 C232.17,353.13 229.85,353.43 228,353.6 C226.15,353.77 224.83,354.22 222.4,354.6 C219.97,354.98 216.18,355.47 213.4,355.9 C210.62,356.33 208.05,356.55 205.7,357.2 C203.35,357.85 201.25,358.58 199.3,359.8 C197.35,361.02 195.38,363.07 194,364.5 C192.62,365.93 192.17,368.15 191,368.4 C189.83,368.65 188.88,366.98 187,366 C185.12,365.02 183.32,363.43 179.7,362.5 C176.08,361.57 170.1,360.65 165.3,360.4 C160.5,360.15 154.95,360.4 150.9,361 C146.85,361.6 143.37,362.45 141,364Z"/></clipPath>
<path d="M141,364 C138.63,365.55 138.43,367.53 136.7,370.3 C134.97,373.07 132.32,377.98 130.6,380.6 C128.88,383.22 127.45,383.03 126.4,386 C125.35,388.97 124.13,394.28 124.3,398.4 C124.47,402.52 126.2,407.1 127.4,410.7 C128.6,414.3 130.23,417.53 131.5,420 C132.77,422.47 133.12,423.17 135,425.5 C136.88,427.83 140.15,432.18 142.8,434 C145.45,435.82 147.83,435.73 150.9,436.4 C153.97,437.07 157.43,437.73 161.2,438 C164.97,438.27 170.2,438.13 173.5,438 C176.8,437.87 179.17,437.87 181,437.2 C182.83,436.53 183.33,435.07 184.5,434 C185.67,432.93 185.42,431.47 188,430.8 C190.58,430.13 196,430.05 200,430 C204,429.95 209.3,430.07 212,430.5 C214.7,430.93 214.73,431.92 216.2,432.6 C217.67,433.28 218.75,434.37 220.8,434.6 C222.85,434.83 225.67,434.23 228.5,434 C231.33,433.77 234.72,433.6 237.8,433.2 C240.88,432.8 244.68,432.25 247,431.6 C249.32,430.95 250.15,430.45 251.7,429.3 C253.25,428.15 255.02,426.75 256.3,424.7 C257.58,422.65 258.5,419.57 259.4,417 C260.3,414.43 261.05,412.13 261.7,409.3 C262.35,406.47 262.78,402.72 263.3,400 C263.82,397.28 264.62,395.28 264.8,393 C264.98,390.72 264.98,388.7 264.4,386.3 C263.82,383.9 262.43,381.55 261.3,378.6 C260.17,375.65 259.98,371.32 257.6,368.6 C255.22,365.88 249.93,364 247,362.3 C244.07,360.6 241.83,359.38 240,358.4 C238.17,357.42 237.08,357.2 236,356.4 C234.92,355.6 234.83,354.07 233.5,353.6 C232.17,353.13 229.85,353.43 228,353.6 C226.15,353.77 224.83,354.22 222.4,354.6 C219.97,354.98 216.18,355.47 213.4,355.9 C210.62,356.33 208.05,356.55 205.7,357.2 C203.35,357.85 201.25,358.58 199.3,359.8 C197.35,361.02 195.38,363.07 194,364.5 C192.62,365.93 192.17,368.15 191,368.4 C189.83,368.65 188.88,366.98 187,366 C185.12,365.02 183.32,363.43 179.7,362.5 C176.08,361.57 170.1,360.65 165.3,360.4 C160.5,360.15 154.95,360.4 150.9,361 C146.85,361.6 143.37,362.45 141,364Z" fill="#f4f02a"/>
<path d="M84.3,391.5 C83.63,389.63 84.43,388.03 85,386 C85.57,383.97 86.48,381.18 87.7,379.3 C88.92,377.42 90.5,375.98 92.3,374.7 C94.1,373.42 95.92,372.42 98.5,371.6 C101.08,370.78 104.45,370.27 107.8,369.8 C111.15,369.33 115.27,369.02 118.6,368.8 C121.93,368.58 124.23,368.43 127.8,368.5 C131.37,368.57 135.47,368.85 140,369.2 C144.53,369.55 150.33,370.13 155,370.6 C159.67,371.07 164.17,371.55 168,372 C171.83,372.45 175.17,372.87 178,373.3 C180.83,373.73 183.12,373.82 185,374.6 C186.88,375.38 188.22,376.52 189.3,378 C190.38,379.48 190.3,382.2 191.5,383.5 C192.7,384.8 194.58,385.22 196.5,385.8 C198.42,386.38 201.58,386.05 203,387 C204.42,387.95 204.92,389.75 205,391.5 C205.08,393.25 204.33,395.42 203.5,397.5 C202.67,399.58 201.42,401.58 200,404 C198.58,406.42 196.83,409.33 195,412 C193.17,414.67 191,417.42 189,420 C187,422.58 185.93,426.03 183,427.5 C180.07,428.97 175.23,428.68 171.4,428.8 C167.57,428.92 163.42,428.55 160,428.2 C156.58,427.85 153.9,427.47 150.9,426.7 C147.9,425.93 144.82,424.52 142,423.6 C139.18,422.68 136.62,421.98 134,421.2 C131.38,420.42 128.62,419.67 126.3,418.9 C123.98,418.13 122.67,417.75 120.1,416.6 C117.53,415.45 113.73,413.55 110.9,412 C108.07,410.45 105.68,409.1 103.1,407.3 C100.52,405.5 97.75,402.88 95.4,401.2 C93.05,399.52 90.85,398.82 89,397.2 C87.15,395.58 84.97,393.37 84.3,391.5Z" fill="#10bfea"/>
<path d="M97.6,373.4 C98.57,374.13 99.13,376.07 99.3,378 C99.47,379.93 99.23,382.75 98.6,385 C97.97,387.25 96.77,389.73 95.5,391.5 C94.23,393.27 92.35,394.95 91,395.6 C89.65,396.25 88.3,396.17 87.4,395.4 C86.5,394.63 85.83,392.9 85.6,391 C85.37,389.1 85.43,386.23 86,384 C86.57,381.77 87.75,379.33 89,377.6 C90.25,375.87 92.07,374.3 93.5,373.6 C94.93,372.9 96.63,372.67 97.6,373.4Z" fill="#5ccdf0"/>
<g clip-path="url(#cc1)"><path d="M141,364 C138.63,365.55 138.43,367.53 136.7,370.3 C134.97,373.07 132.32,377.98 130.6,380.6 C128.88,383.22 127.45,383.03 126.4,386 C125.35,388.97 124.13,394.28 124.3,398.4 C124.47,402.52 126.2,407.1 127.4,410.7 C128.6,414.3 130.23,417.53 131.5,420 C132.77,422.47 133.12,423.17 135,425.5 C136.88,427.83 140.15,432.18 142.8,434 C145.45,435.82 147.83,435.73 150.9,436.4 C153.97,437.07 157.43,437.73 161.2,438 C164.97,438.27 170.2,438.13 173.5,438 C176.8,437.87 179.17,437.87 181,437.2 C182.83,436.53 183.33,435.07 184.5,434 C185.67,432.93 185.42,431.47 188,430.8 C190.58,430.13 196,430.05 200,430 C204,429.95 209.3,430.07 212,430.5 C214.7,430.93 214.73,431.92 216.2,432.6 C217.67,433.28 218.75,434.37 220.8,434.6 C222.85,434.83 225.67,434.23 228.5,434 C231.33,433.77 234.72,433.6 237.8,433.2 C240.88,432.8 244.68,432.25 247,431.6 C249.32,430.95 250.15,430.45 251.7,429.3 C253.25,428.15 255.02,426.75 256.3,424.7 C257.58,422.65 258.5,419.57 259.4,417 C260.3,414.43 261.05,412.13 261.7,409.3 C262.35,406.47 262.78,402.72 263.3,400 C263.82,397.28 264.62,395.28 264.8,393 C264.98,390.72 264.98,388.7 264.4,386.3 C263.82,383.9 262.43,381.55 261.3,378.6 C260.17,375.65 259.98,371.32 257.6,368.6 C255.22,365.88 249.93,364 247,362.3 C244.07,360.6 241.83,359.38 240,358.4 C238.17,357.42 237.08,357.2 236,356.4 C234.92,355.6 234.83,354.07 233.5,353.6 C232.17,353.13 229.85,353.43 228,353.6 C226.15,353.77 224.83,354.22 222.4,354.6 C219.97,354.98 216.18,355.47 213.4,355.9 C210.62,356.33 208.05,356.55 205.7,357.2 C203.35,357.85 201.25,358.58 199.3,359.8 C197.35,361.02 195.38,363.07 194,364.5 C192.62,365.93 192.17,368.15 191,368.4 C189.83,368.65 188.88,366.98 187,366 C185.12,365.02 183.32,363.43 179.7,362.5 C176.08,361.57 170.1,360.65 165.3,360.4 C160.5,360.15 154.95,360.4 150.9,361 C146.85,361.6 143.37,362.45 141,364Z" fill="#98d67a"/>
<path d="M120,398.6 L124.3,398.4 L129.5,395.3 L132.6,394.3 L136.7,396.3 L138.7,398.4 L142.8,400.4 L147,399.4 L153.1,397.4 L157.8,395.8 L160.8,398.9 L168.6,398.1 L176.3,399 L184,397.5 L192,396 L205,395 L205,440 L120,440Z" fill="#3ec5ba" clip-path="url(#cy)"/></g>
<path d="M204.6,387 C205.93,385.58 206.33,383.7 209,381.5 C211.67,379.3 216.97,376.32 220.6,373.8 C224.23,371.28 228.43,368.4 230.8,366.4 C233.17,364.4 233.77,363.33 234.8,361.8 C235.83,360.27 236.05,358.57 237,357.2 C237.95,355.83 239.08,354.53 240.5,353.6 C241.92,352.67 243.75,352.02 245.5,351.6 C247.25,351.18 249.17,351.03 251,351.1 C252.83,351.17 255.03,351.32 256.5,352 C257.97,352.68 259.08,353.9 259.8,355.2 C260.52,356.5 260.83,358.08 260.8,359.8 C260.77,361.52 260.33,363.8 259.6,365.5 C258.87,367.2 257.4,368.8 256.4,370 C255.4,371.2 255.15,370.32 253.6,372.7 C252.05,375.08 249.25,380.23 247.1,384.3 C244.95,388.37 242.25,393.82 240.7,397.1 C239.15,400.38 238.32,401.22 237.8,404 C237.28,406.78 237.9,411.22 237.6,413.8 C237.3,416.38 236.93,417.7 236,419.5 C235.07,421.3 234.33,422.85 232,424.6 C229.67,426.35 225.2,428.73 222,430 C218.8,431.27 215.83,431.67 212.8,432.2 C209.77,432.73 207.1,433.03 203.8,433.2 C200.5,433.37 195.97,433.43 193,433.2 C190.03,432.97 187.57,432.67 186,431.8 C184.43,430.93 184.07,429.63 183.6,428 C183.13,426.37 183.03,424.17 183.2,422 C183.37,419.83 183.82,417.6 184.6,415 C185.38,412.4 186.53,408.93 187.9,406.4 C189.27,403.87 191.17,402 192.8,399.8 C194.43,397.6 196.33,394.83 197.7,393.2 C199.07,391.57 199.85,391.03 201,390 C202.15,388.97 203.27,388.42 204.6,387Z" fill="#10bfea"/>
<linearGradient id="g2g" gradientUnits="userSpaceOnUse" x1="210" y1="408" x2="246" y2="364"><stop offset="0" stop-color="#44c8c4"/><stop offset="0.35" stop-color="#66cfae"/><stop offset="0.7" stop-color="#8ad592"/><stop offset="1" stop-color="#9ad882"/></linearGradient>
<g clip-path="url(#cy)"><path d="M195,384 C198.33,392.33 210.6,388.57 215,390 C219.4,391.43 219.25,391.63 221.4,392.6 C223.55,393.57 225.97,394.4 227.9,395.8 C229.83,397.2 231.62,399.07 233,401 C234.38,402.93 235.37,405.4 236.2,407.4 C237.03,409.4 231.53,412.07 238,413 C244.47,413.93 268.83,425.17 275,413 C281.17,400.83 288.33,352.17 275,340 C261.67,327.83 208.33,332.67 195,340 C181.67,347.33 191.67,375.67 195,384Z" fill="url(#g2g)" clip-path="url(#cc2)"/></g>
<line x1="158" y1="400.4" x2="198" y2="398.8" stroke="#c08a90" stroke-width="0.7" stroke-dasharray="2,1"/>
<path d="M201.7,429.1L207.7,410.7M207.7,410.7L127.3,405.1M207.7,375.3L207.7,410.7M127.3,369.7L127.3,405.1" stroke="#3d3a2a" stroke-width="0.85" fill="none" stroke-opacity="0.3"/>
<path d="M121.3,388.1L201.7,393.7M201.7,393.7L207.7,375.3M207.7,375.3L127.3,369.7M127.3,369.7L121.3,388.1M121.3,423.5L201.7,429.1M127.3,405.1L121.3,423.5M121.3,388.1L121.3,423.5M201.7,393.7L201.7,429.1" stroke="#3d3a2a" stroke-width="0.85" fill="none" stroke-opacity="0.85"/>
<path d="M262.6,401.5L234.2,388.4M234.2,388.4L177,415.2M234.2,353.2L234.2,388.4" stroke="#3d3a2a" stroke-width="0.85" fill="none" stroke-opacity="0.3"/>
<path d="M177,380L205.4,393.1M205.4,393.1L262.6,366.3M262.6,366.3L234.2,353.2M234.2,353.2L177,380M177,415.2L205.4,428.3M205.4,428.3L262.6,401.5M177,380L177,415.2M205.4,393.1L205.4,428.3M262.6,366.3L262.6,401.5" stroke="#3d3a2a" stroke-width="0.85" fill="none" stroke-opacity="0.85"/>
<clipPath id="cb2"><path d="M170,384 C174.17,373.83 187.5,383 195,384 C202.5,385 210.6,388.57 215,390 C219.4,391.43 219.25,391.63 221.4,392.6 C223.55,393.57 225.97,394.4 227.9,395.8 C229.83,397.2 231.62,399.07 233,401 C234.38,402.93 235.37,405.4 236.2,407.4 C237.03,409.4 231.53,412.07 238,413 C244.47,413.93 268.83,407.67 275,413 C281.17,418.33 292.5,439.67 275,445 C257.5,450.33 187.5,455.17 170,445 C152.5,434.83 165.83,394.17 170,384Z"/></clipPath><path d="M204.6,387 C205.93,385.58 206.33,383.7 209,381.5 C211.67,379.3 216.97,376.32 220.6,373.8 C224.23,371.28 228.43,368.4 230.8,366.4 C233.17,364.4 233.77,363.33 234.8,361.8 C235.83,360.27 236.05,358.57 237,357.2 C237.95,355.83 239.08,354.53 240.5,353.6 C241.92,352.67 243.75,352.02 245.5,351.6 C247.25,351.18 249.17,351.03 251,351.1 C252.83,351.17 255.03,351.32 256.5,352 C257.97,352.68 259.08,353.9 259.8,355.2 C260.52,356.5 260.83,358.08 260.8,359.8 C260.77,361.52 260.33,363.8 259.6,365.5 C258.87,367.2 257.4,368.8 256.4,370 C255.4,371.2 255.15,370.32 253.6,372.7 C252.05,375.08 249.25,380.23 247.1,384.3 C244.95,388.37 242.25,393.82 240.7,397.1 C239.15,400.38 238.32,401.22 237.8,404 C237.28,406.78 237.9,411.22 237.6,413.8 C237.3,416.38 236.93,417.7 236,419.5 C235.07,421.3 234.33,422.85 232,424.6 C229.67,426.35 225.2,428.73 222,430 C218.8,431.27 215.83,431.67 212.8,432.2 C209.77,432.73 207.1,433.03 203.8,433.2 C200.5,433.37 195.97,433.43 193,433.2 C190.03,432.97 187.57,432.67 186,431.8 C184.43,430.93 184.07,429.63 183.6,428 C183.13,426.37 183.03,424.17 183.2,422 C183.37,419.83 183.82,417.6 184.6,415 C185.38,412.4 186.53,408.93 187.9,406.4 C189.27,403.87 191.17,402 192.8,399.8 C194.43,397.6 196.33,394.83 197.7,393.2 C199.07,391.57 199.85,391.03 201,390 C202.15,388.97 203.27,388.42 204.6,387Z" fill="#10bfea" opacity="0.6" clip-path="url(#cb2)"/>
<line x1="205.4" y1="393.1" x2="205.4" y2="428.3" stroke="#3d3a2a" stroke-width="0.8" stroke-opacity="0.55"/>
<path d="M120.2,381.7h4M122.2,379.7v4" stroke="#0a14ff" stroke-width="0.9"/>
<path d="M118.1,418.8h4M120.1,416.8v4" stroke="#0a14ff" stroke-width="0.9"/>
<path d="M124.3,421.9h4M126.3,419.9v4" stroke="#0a14ff" stroke-width="0.9"/>
<path d="M238.7,354.3h4M240.7,352.3v4" stroke="#0a14ff" stroke-width="0.9"/>
<path d="M246.6,363.3h4M248.6,361.3v4" stroke="#0a14ff" stroke-width="0.9"/>
<path d="M254.2,368.7h4M256.2,366.7v4" stroke="#0a14ff" stroke-width="0.9"/>
<path d="M202.8,390.6h4M204.8,388.6v4" stroke="#0a14ff" stroke-width="0.9"/>
<path d="M201.9,426.8h4M203.9,424.8v4" stroke="#0a14ff" stroke-width="0.9"/>
<path d="M117.3,409.5h3.6M119.1,407.7v3.6" stroke="#2a6ee8" stroke-width="0.8"/>
<path d="M130.7,419.8h3.6M132.5,418v3.6" stroke="#2a6ee8" stroke-width="0.8"/>
<path d="M134.8,417.8h3.6M136.6,416v3.6" stroke="#2a6ee8" stroke-width="0.8"/>
<path d="M168.6,395.4h3.6M170.4,393.6v3.6" stroke="#2a6ee8" stroke-width="0.8"/>
<path d="M167.6,404.7h3.6M169.4,402.9v3.6" stroke="#2a6ee8" stroke-width="0.8"/>
<path d="M161.4,419.5h3.6M163.2,417.7v3.6" stroke="#2a6ee8" stroke-width="0.8"/>
<path d="M134.7,418h3.6M136.5,416.2v3.6" stroke="#2a6ee8" stroke-width="0.8"/>
<path d="M209,413h3.6M210.8,411.2v3.6" stroke="#2a6ee8" stroke-width="0.8"/>
<path d="M219.5,402.5h3.6M221.3,400.7v3.6" stroke="#2a6ee8" stroke-width="0.8"/>
<path d="M135.7,376.8h3.8M137.6,374.9v3.8" stroke="#6a64b0" stroke-width="0.85"/>
<path d="M234.1,362.9h3.8M236,361v3.8" stroke="#6a64b0" stroke-width="0.85"/>
<path d="M239.3,373.2h3.8M241.2,371.3v3.8" stroke="#6a64b0" stroke-width="0.85"/>
<path d="M240.9,372.7h3.8M242.8,370.8v3.8" stroke="#6a64b0" stroke-width="0.85"/>
<path d="M229.6,389.7h3.8M231.5,387.8v3.8" stroke="#6a64b0" stroke-width="0.85"/>
<path d="M251.3,391.5h3.8M253.2,389.6v3.8" stroke="#6a64b0" stroke-width="0.85"/>
<path d="M241.2,399.2h3.8M243.1,397.3v3.8" stroke="#6a64b0" stroke-width="0.85"/>
<path d="M235.1,405.6h3.8M237,403.7v3.8" stroke="#6a64b0" stroke-width="0.85"/>
<path d="M250.9,391.8h3.8M252.8,389.9v3.8" stroke="#6a64b0" stroke-width="0.85"/>
<path d="M167.6,383.1h3.6M169.4,381.3v3.6" stroke="#8c9aa0" stroke-width="0.75"/>
<path d="M165.5,386.2h3.6M167.3,384.4v3.6" stroke="#8c9aa0" stroke-width="0.75"/>
<path d="M160.4,393.8h3.6M162.2,392v3.6" stroke="#8c9aa0" stroke-width="0.75"/>
<path d="M221.7,358.5h3.6M223.5,356.7v3.6" stroke="#8c9aa0" stroke-width="0.75"/>
<path d="M220.9,362.4h3.6M222.7,360.6v3.6" stroke="#8c9aa0" stroke-width="0.75"/>
<path d="M250.2,376.3h3.6M252,374.5v3.6" stroke="#8c9aa0" stroke-width="0.75"/>
<path d="M254.6,384.8h3.6M256.4,383v3.6" stroke="#8c9aa0" stroke-width="0.75"/>
<path d="M247.5,393h3.6M249.3,391.2v3.6" stroke="#8c9aa0" stroke-width="0.75"/>
<path d="M249.8,399.7h3.6M251.6,397.9v3.6" stroke="#8c9aa0" stroke-width="0.75"/>
<path d="M253.7,403.5h3.6M255.5,401.7v3.6" stroke="#8c9aa0" stroke-width="0.75"/>
<path d="M237.1,394h3.6M238.9,392.2v3.6" stroke="#8c9aa0" stroke-width="0.75"/>
<rect x="284" y="345.4" width="64.4" height="41.7" fill="#ffffff" stroke="#3a3a3a" stroke-width="0.5"/>
<path d="M294.1,350.8h4.2M296.2,348.7v4.2" stroke="#0000ff" stroke-width="0.9"/>
<rect x="287" y="356.1" width="19" height="5.4" fill="#ffffff" stroke="#333333" stroke-width="0.8"/>
<rect x="286.6" y="364.3" width="19.2" height="5.4" fill="#55c8ec"/>
<rect x="286.6" y="372.4" width="19.2" height="5.4" fill="#f8f08a"/>
<line x1="286.6" y1="383.2" x2="305.8" y2="383.2" stroke="#ff0000" stroke-width="1.1" stroke-dasharray="2.6,1,0.9,1"/>
<text x="307.4" y="352.6" font-size="5.9" font-family="'Liberation Sans', Arial, sans-serif" text-anchor="start" fill="#1a1a1a" stroke="#1a1a1a" stroke-width="0.1" >Measurements</text>
<text x="307.4" y="361.2" font-size="5.9" font-family="'Liberation Sans', Arial, sans-serif" text-anchor="start" fill="#1a1a1a" stroke="#1a1a1a" stroke-width="0.1" >Truth</text>
<text x="307.4" y="368.7" font-size="5.9" font-family="'Liberation Sans', Arial, sans-serif" text-anchor="start" fill="#1a1a1a" stroke="#1a1a1a" stroke-width="0.1" >GGIW-PHD</text>
<text x="307.4" y="377.2" font-size="5.9" font-family="'Liberation Sans', Arial, sans-serif" text-anchor="start" fill="#1a1a1a" stroke="#1a1a1a" stroke-width="0.1" >GP-PHD</text>
<text x="307.4" y="385.1" font-size="5.9" font-family="'Liberation Sans', Arial, sans-serif" text-anchor="start" fill="#1a1a1a" stroke="#1a1a1a" stroke-width="0.1" >Trajectory</text>
<text x="197" y="262.6" font-size="10.3" font-family="'Liberation Serif', 'Times New Roman', serif" text-anchor="middle" fill="#000000" stroke="#000000" stroke-width="0.3" font-weight="bold">(a)</text>
<text x="197" y="545.2" font-size="10.3" font-family="'Liberation Serif', 'Times New Roman', serif" text-anchor="middle" fill="#000000" stroke="#000000" stroke-width="0.3" font-weight="bold">(b)</text>
</svg>
</body></html>
